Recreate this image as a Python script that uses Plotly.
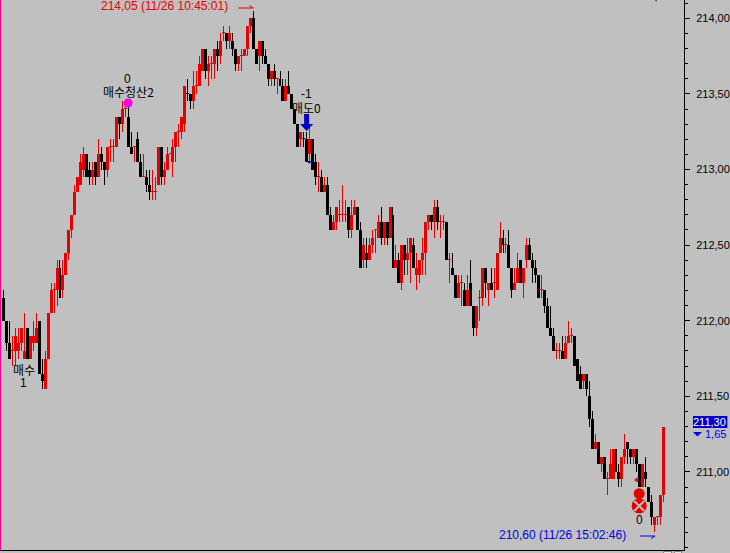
import plotly.graph_objects as go

body_top = [
 212.15,212.00,211.85,211.80,211.90,211.85,211.95,211.80,211.95,211.90,
 211.90,211.95,212.00,211.65,211.75,212.05,212.20,212.20,212.35,212.35,
 212.30,212.45,212.60,212.70,212.85,212.95,213.05,213.10,213.10,213.00,
 213.00,213.05,213.10,213.10,213.05,213.15,213.15,213.15,213.35,213.35,
 213.40,213.40,213.35,213.15,213.15,213.20,213.05,212.95,212.95,212.90,
 212.85,212.85,213.15,213.15,213.00,213.10,213.10,213.15,213.25,213.25,
 213.35,213.55,213.50,213.50,213.55,213.55,213.70,213.80,213.80,213.70,
 213.70,213.80,213.80,213.85,213.90,213.90,213.90,213.85,213.80,213.75,
 213.75,213.80,213.95,214.00,214.00,213.80,213.85,213.85,213.75,213.70,
 213.65,213.65,213.60,213.60,213.55,213.55,213.55,213.50,213.40,213.30,
 213.25,213.20,213.20,213.20,213.20,213.05,212.95,212.95,212.90,212.90,
 212.70,212.65,212.75,212.70,212.70,212.70,212.75,212.70,212.75,212.75,
 212.60,212.50,212.45,212.50,212.55,212.60,212.65,212.65,212.65,212.65,
 212.75,212.70,212.40,212.40,212.50,212.50,212.45,212.55,212.50,212.35,
 212.40,212.45,212.65,212.70,212.70,212.75,212.75,212.65,212.65,212.65,
 212.40,212.35,212.30,212.25,212.25,212.20,212.20,212.25,212.10,212.10,
 212.15,212.35,212.35,212.25,212.25,212.25,212.45,212.55,212.55,212.50,
 212.50,212.35,212.25,212.35,212.40,212.35,212.50,212.50,212.40,212.35,
 212.30,212.20,212.20,212.10,211.95,211.90,211.80,211.80,211.80,211.85,
 211.90,211.90,211.90,211.75,211.65,211.65,211.65,211.50,211.35,211.20,
 211.20,211.10,211.10,210.95,211.05,211.15,211.15,211.00,211.10,211.15,
 211.20,211.15,211.15,211.15,211.05,211.05,211.00,210.90,210.80,210.70,
 210.70,210.85,211.30]

body_bottom = [
 212.00,211.85,211.75,211.80,211.80,211.80,211.85,211.75,211.75,211.75,
 211.85,211.85,211.65,211.60,211.55,211.75,212.05,212.20,212.20,212.15,
 212.20,212.30,212.45,212.60,212.70,212.85,212.90,213.00,212.95,212.95,
 212.95,212.95,212.95,213.05,213.00,213.00,213.15,213.15,213.15,213.30,
 213.30,213.40,213.15,213.10,213.15,213.05,212.95,212.95,212.90,212.85,
 212.85,212.85,212.90,212.95,212.95,213.00,213.10,213.05,213.15,213.25,
 213.25,213.30,213.50,213.45,213.45,213.55,213.55,213.65,213.65,213.65,
 213.70,213.70,213.75,213.75,213.90,213.85,213.85,213.80,213.70,213.70,
 213.75,213.75,213.80,213.95,213.80,213.70,213.75,213.75,213.70,213.60,
 213.60,213.60,213.60,213.55,213.45,213.45,213.50,213.40,213.30,213.15,
 213.20,213.20,213.05,213.10,213.00,212.95,212.95,212.85,212.85,212.70,
 212.60,212.60,212.65,212.70,212.70,212.70,212.60,212.60,212.70,212.60,
 212.35,212.40,212.40,212.40,212.50,212.60,212.55,212.55,212.55,212.55,
 212.55,212.35,212.35,212.25,212.25,212.40,212.40,212.45,212.35,212.30,
 212.30,212.40,212.45,212.65,212.65,212.65,212.65,212.65,212.65,212.40,
 212.40,212.30,212.15,212.15,212.25,212.10,212.10,212.10,211.95,211.95,
 212.15,212.15,212.25,212.20,212.20,212.25,212.20,212.45,212.50,212.50,
 212.35,212.20,212.20,212.25,212.25,212.25,212.40,212.40,212.35,212.30,
 212.15,212.20,212.10,211.95,211.90,211.80,211.80,211.80,211.75,211.75,
 211.85,211.90,211.70,211.60,211.55,211.60,211.55,211.35,211.15,211.15,
 211.05,211.05,210.95,210.95,210.95,210.95,211.00,210.95,210.95,211.10,
 211.15,211.10,211.10,211.05,210.90,210.90,210.95,210.80,210.70,210.65,
 210.70,210.70,210.85]

high = [
 212.20,212.00,212.00,211.90,211.95,211.95,211.95,212.05,211.95,211.90,
 212.00,212.05,212.00,211.75,211.80,212.05,212.25,212.25,212.40,212.40,
 212.40,212.45,212.60,212.70,212.90,212.95,213.10,213.15,213.10,213.05,
 213.05,213.05,213.20,213.15,213.05,213.15,213.20,213.20,213.35,213.35,
 213.45,213.45,213.45,213.25,213.15,213.25,213.10,213.10,213.00,213.00,
 213.00,212.95,213.15,213.15,213.05,213.15,213.15,213.20,213.25,213.30,
 213.35,213.55,213.60,213.50,213.65,213.65,213.75,213.80,213.80,213.75,
 213.75,213.80,213.85,213.90,213.95,213.90,213.95,213.90,213.80,213.75,
 213.80,213.80,213.95,214.00,214.05,213.80,213.85,213.85,213.80,213.70,
 213.65,213.70,213.60,213.65,213.60,213.60,213.65,213.50,213.40,213.30,
 213.25,213.25,213.25,213.30,213.20,213.10,213.05,213.00,212.95,212.95,
 212.75,212.70,212.75,212.80,212.90,212.80,212.75,212.80,212.80,212.75,
 212.65,212.55,212.55,212.55,212.60,212.60,212.70,212.75,212.65,212.65,
 212.75,212.75,212.50,212.45,212.50,212.50,212.55,212.55,212.55,212.45,
 212.40,212.55,212.65,212.70,212.70,212.80,212.80,212.70,212.70,212.65,
 212.45,212.45,212.30,212.30,212.30,212.25,212.30,212.40,212.10,212.10,
 212.20,212.35,212.35,212.25,212.35,212.35,212.45,212.65,212.60,212.55,
 212.60,212.35,212.35,212.45,212.40,212.35,212.55,212.55,212.45,212.40,
 212.30,212.30,212.20,212.15,212.10,211.95,211.85,211.85,211.90,211.90,
 212.00,211.95,211.90,211.75,211.70,211.65,211.65,211.60,211.40,211.25,
 211.20,211.10,211.10,211.00,211.15,211.15,211.15,211.05,211.10,211.25,
 211.20,211.15,211.15,211.15,211.05,211.05,211.10,210.90,210.85,210.70,
 210.70,210.85,211.30]

low = [
 212.00,211.80,211.75,211.70,211.70,211.75,211.80,211.75,211.75,211.75,
 211.80,211.85,211.65,211.55,211.55,211.75,212.05,212.05,212.10,212.15,
 212.15,212.30,212.40,212.55,212.70,212.85,212.90,212.95,212.95,212.90,
 212.90,212.90,212.95,213.00,212.90,212.95,213.05,213.05,213.15,213.20,
 213.25,213.35,213.15,213.10,213.05,213.05,212.95,212.95,212.85,212.80,
 212.80,212.80,212.90,212.90,212.90,213.00,213.00,212.95,213.05,213.15,
 213.20,213.25,213.45,213.40,213.40,213.50,213.55,213.65,213.60,213.55,
 213.60,213.60,213.65,213.70,213.85,213.80,213.80,213.75,213.65,213.65,
 213.65,213.75,213.75,213.90,213.80,213.70,213.65,213.70,213.70,213.55,
 213.55,213.55,213.50,213.55,213.45,213.45,213.50,213.40,213.30,213.15,
 213.15,213.15,213.05,213.05,213.00,212.90,212.85,212.85,212.85,212.70,
 212.60,212.60,212.60,212.65,212.65,212.65,212.55,212.55,212.70,212.60,
 212.35,212.35,212.35,212.40,212.45,212.45,212.55,212.50,212.50,212.50,
 212.55,212.35,212.35,212.25,212.20,212.30,212.30,212.25,212.35,212.20,
 212.25,212.30,212.30,212.60,212.60,212.55,212.60,212.55,212.60,212.40,
 212.25,212.30,212.15,212.15,212.10,212.10,212.10,212.10,211.90,211.90,
 212.00,212.10,212.15,212.10,212.20,212.15,212.20,212.45,212.45,212.45,
 212.35,212.15,212.20,212.25,212.25,212.15,212.35,212.40,212.25,212.25,
 212.15,212.15,212.05,211.95,211.90,211.80,211.75,211.75,211.75,211.75,
 211.85,211.85,211.70,211.60,211.55,211.55,211.50,211.30,211.15,211.15,
 211.05,211.00,210.95,210.85,210.95,210.95,211.00,210.90,210.90,211.05,
 211.05,211.05,211.05,211.00,210.90,210.90,210.90,210.80,210.65,210.60,
 210.65,210.65,210.80]

black_cols = [0,1,2,8,12,13,19,28,29,31,33,34,39,42,43,45,46,48,49,53,62,63,68,72,75,77,78,
              84,85,87,88,89,91,93,94,96,97,98,99,101,102,104,105,107,109,110,116,119,120,
              122,127,129,131,133,135,138,144,146,149,151,152,155,157,158,162,164,168,170,
              171,174,177,178,179,180,182,183,184,185,188,192,193,194,196,197,198,200,202,
              206,207,210,211,213,214,216,217,218]

axis_major = [214.0, 213.5, 213.0, 212.5, 212.0, 211.5, 211.0]
axis_major_labels = ["214,00", "213,50", "213,00", "212,50", "212,00", "211,50", "211,00"]
axis_minor = [214.1, 213.9, 213.8, 213.7, 213.6, 213.4, 213.3, 213.2, 213.1, 212.9, 212.8, 212.7, 212.6,
              212.4, 212.3, 212.2, 212.1, 211.9, 211.8, 211.7, 211.6, 211.4, 211.3, 211.2, 211.1,
              210.9, 210.8, 210.7, 210.6, 210.5]

W, H = 730, 553
PLOT_R, PLOT_B = 686, 550
STEP = 2.982
X0 = 3.5
Y_214 = 18.3
PX_PER_UNIT = 151.2
FONT = "Liberation Sans, Noto Sans CJK KR, sans-serif"
KFONT = "Noto Sans CJK KR, Liberation Sans, sans-serif"
RED = "rgba(230,0,0,0.999)"
BLK = "rgba(0,0,0,0.999)"
TEXT_RED = "#E60000"
BLUE = "#0000E0"
DARKBLUE = "#0000C8"

n = len(body_top)
assert n == len(body_bottom) == len(high) == len(low)
cols = list(range(n))
blacks = set(black_cols)
colors = [BLK if i in blacks else RED for i in cols]
doji_h = 1.0 / PX_PER_UNIT
heights = [max(t - b, doji_h) for t, b in zip(body_top, body_bottom)]
wick_hi = [max(h, t) for h, t in zip(high, body_top)]
wick_lo = [min(l, b) for l, b in zip(low, body_bottom)]


def px(x):
    return x / PLOT_R


def py(y):
    return 1 - y / PLOT_B


fig = go.Figure()
fig.add_bar(x=cols, y=[h - l for h, l in zip(wick_hi, wick_lo)], base=wick_lo, width=1 / STEP,
            marker=dict(color=colors, line=dict(width=0)), hoverinfo="skip")
fig.add_bar(x=cols, y=heights, base=body_bottom, width=1.0,
            marker=dict(color=colors, line=dict(width=0)), hoverinfo="skip")

# signal markers
fig.add_scatter(x=[41.9], y=[213.44], mode="markers",
                marker=dict(symbol="circle", size=9, color="#FF00E6", line=dict(width=0)))
fig.add_scatter(x=[102.8], y=[213.05], mode="markers",
                marker=dict(symbol="triangle-down", size=4, color=DARKBLUE, line=dict(width=0)))
fig.add_scatter(x=[212.9], y=[210.947], mode="markers",
                marker=dict(symbol="triangle-left", size=5, color=TEXT_RED, line=dict(width=0)))
fig.add_scatter(x=[213.8], y=[210.856], mode="markers",
                marker=dict(symbol="circle", size=11, color=TEXT_RED, line=dict(width=0)))
fig.add_scatter(x=[213.8], y=[210.775], mode="markers",
                marker=dict(symbol="circle", size=15, color=TEXT_RED, line=dict(width=0)))
fig.add_scatter(x=[213.8], y=[210.775], mode="markers",
                marker=dict(symbol="x-thin", size=10, color="#C0C0C0", line=dict(width=2, color="#C0C0C0")))


def text(s, x, y, color="#000000", anchor="center", size=12, font=FONT):
    fig.add_annotation(xref="paper", yref="paper", x=px(x), y=py(y), text=s, showarrow=False,
                       xanchor=anchor, yanchor="middle", borderpad=0,
                       font=dict(family=font, size=size, color=color))


text("214,05 (11/26 10:45:01)", 100, 6, TEXT_RED, "left", 12)
text("0", 128, 79)
text("매수청산2", 128.5, 91.5, size=12, font=KFONT)
text("-1", 307, 94)
text("매도0", 307.5, 107, size=12, font=KFONT)
text("매수", 24, 369.5, size=12, font=KFONT)
text("1", 24, 383)
text("0", 641, 520)
text("210,60 (11/26 15:02:46)", 629, 534.5, BLUE, "right", 12)
text("1,65", 729, 434, BLUE, "right", 11)
text("211,30", 729, 422, "#FFFFFF", "right", 11)
text("1:00 10:00 00:00 00:00 00:00", 4, 559, "#000000", "left", 13)


def rect(x0, y0, x1, y1, fill, line=None):
    fig.add_shape(type="rect", xref="paper", yref="paper", layer="below",
                  x0=px(x0), x1=px(x1), y0=py(y0), y1=py(y1), fillcolor=fill,
                  line=dict(width=1 if line else 0, color=line or fill))


def poly(points, fill=None, color=None, width=0):
    d = "M" + " L".join(f"{px(a):.5f},{py(b):.5f}" for a, b in points)
    if fill:
        d += " Z"
    fig.add_shape(type="path", xref="paper", yref="paper", path=d,
                  fillcolor=fill or "rgba(0,0,0,0)",
                  line=dict(width=width, color=color or "rgba(0,0,0,0)"))


rect(695, 416, 729.5, 428, DARKBLUE)
rect(665.5, 551.5, 673.5, 556, "#E6E6E6", "#808080")
rect(676.5, 551.5, 683.5, 556, "#E6E6E6", "#808080")
# pink edge
fig.add_shape(type="rect", xref="paper", yref="paper", x0=0, x1=px(1), y0=0, y1=1,
              fillcolor="#FF0090", line=dict(width=0))
# blue sell arrow
poly([(305, 114), (310, 114), (310, 124), (314, 124), (307.5, 131), (301, 124), (305, 124)], fill=DARKBLUE)
# small blue triangle next to 1,65
poly([(695, 432), (704, 432), (699.5, 436.5)], fill=BLUE)
# high and low arrows
poly([(239, 8), (254, 8), (250, 5.5)], color=TEXT_RED, width=1)
poly([(642, 536), (657, 536), (653, 538.5)], color=BLUE, width=1)
# stray blue pixel at top
poly([(658, 0), (658, 1.5)], color=BLUE, width=1)

fig.update_layout(
    width=W, height=H, margin=dict(l=0, r=W - PLOT_R, t=0, b=H - PLOT_B),
    paper_bgcolor="#C0C0C0", plot_bgcolor="#C0C0C0", showlegend=False, barmode="overlay",
    bargap=0, hovermode=False,
    xaxis=dict(range=[-X0 / STEP, (PLOT_R - X0) / STEP], showgrid=False, zeroline=False,
               showticklabels=False, ticks="", showline=True, linecolor="#000000", linewidth=1,
               fixedrange=True),
    yaxis=dict(range=[214 - (PLOT_B - Y_214) / PX_PER_UNIT, 214 + Y_214 / PX_PER_UNIT], side="right",
               showgrid=False, zeroline=False, showline=True, linecolor="#000000", linewidth=1,
               tickmode="array", tickvals=axis_major, ticktext=axis_major_labels,
               ticks="outside", ticklen=5, tickwidth=1, tickcolor="#000000",
               ticklabelstandoff=4,
               tickfont=dict(family=FONT, size=11, color="#000000"),
               minor=dict(tickmode="array", tickvals=axis_minor, ticks="outside", ticklen=3,
                          tickwidth=1, tickcolor="#000000", showgrid=False),
               fixedrange=True),
)
fig.write_html("out.html", config=dict(displayModeBar=False),
               post_script="document.body.style.margin='0';document.body.style.overflow='hidden';document.body.style.background='#C0C0C0';")
